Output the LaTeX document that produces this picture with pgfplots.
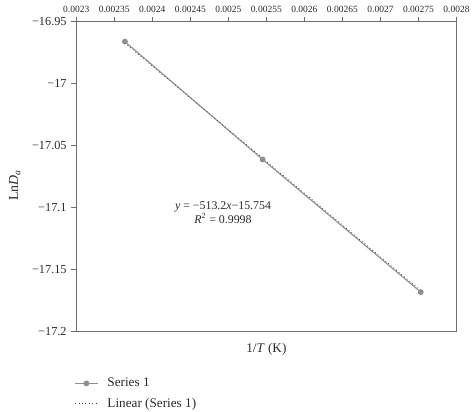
\documentclass[border=0pt]{standalone}
\usepackage{pgfplots}
\pgfplotsset{compat=1.18}
\usepackage{fontspec}
\setmainfont{Liberation Serif}
\definecolor{axgray}{HTML}{6E6E6E}
\definecolor{sergray}{HTML}{8E8E8E}
\definecolor{txt}{HTML}{2A2A2A}

\begin{document}
\begin{tikzpicture}
\begin{axis}[
  scale only axis,
  width=288pt, height=234.75pt,
  xmin=0.0023, xmax=0.0028,
  ymin=-17.2, ymax=-16.95,
  axis line style={axgray, line width=0.8pt},
  tick style={axgray, line width=0.8pt},
  tick align=outside,
  major tick length=3.75pt,
  xtick pos=right, xticklabel pos=right,
  ytick pos=left,
  xtick={0.0023,0.00235,0.0024,0.00245,0.0025,0.00255,0.0026,0.00265,0.0027,0.00275,0.0028},
  xticklabels={0.0023,0.00235,0.0024,0.00245,0.0025,0.00255,0.0026,0.00265,0.0027,0.00275,0.0028},
  ytick={-17.2,-17.15,-17.1,-17.05,-17,-16.95},
  yticklabels={−17.2,−17.15,−17.1,−17.05,−17,−16.95},
  x tick label style={font=\fontsize{7.2}{8}\selectfont, text=txt},
  y tick label style={font=\fontsize{9.3}{10}\selectfont, text=txt},
  scaled x ticks=false,
  xlabel={1/\textit{T} (K)},
  xlabel style={at={(axis description cs:0.5,-0.058)}, anchor=center, font=\fontsize{10}{12}\selectfont, text=txt},
  ylabel={Ln\textit{D}\textsubscript{\textit{a}}},
  ylabel style={at={(axis description cs:-0.1615,0.473)}, anchor=center, font=\fontsize{10.5}{12}\selectfont, text=txt},
  legend style={at={(axis description cs:-0.005,-0.14)}, anchor=north west, draw=none, fill=none,
    font=\fontsize{10}{12}\selectfont, text=txt, row sep=3pt, inner sep=0pt,
    /tikz/every odd column/.append style={column sep=5pt}},
  legend cell align=left,
  clip=false,
]
\addplot[sergray, line width=0.8pt, mark=*, mark size=1.8pt, mark options={fill=sergray, draw=sergray}]
  coordinates {(0.002364,-16.966) (0.002545,-17.061) (0.002753,-17.168)};
\addlegendentry{Series 1}
\addplot[black!75, line width=0.6pt, dotted]
  coordinates {(0.002364,-16.9672) (0.002753,-17.1668)};
\addlegendentry{Linear (Series 1)}
\node[align=center, font=\fontsize{9}{10.5}\selectfont, text=txt] at (axis cs:0.002493,-17.104)
  {\textit{y} = −513.2\textit{x}−15.754\\\textit{R}\textsuperscript{2} = 0.9998};
\path (rel axis cs:-0.2005,-0.246) rectangle (rel axis cs:1.0339,1.0703);
\end{axis}
\end{tikzpicture}
\end{document}
